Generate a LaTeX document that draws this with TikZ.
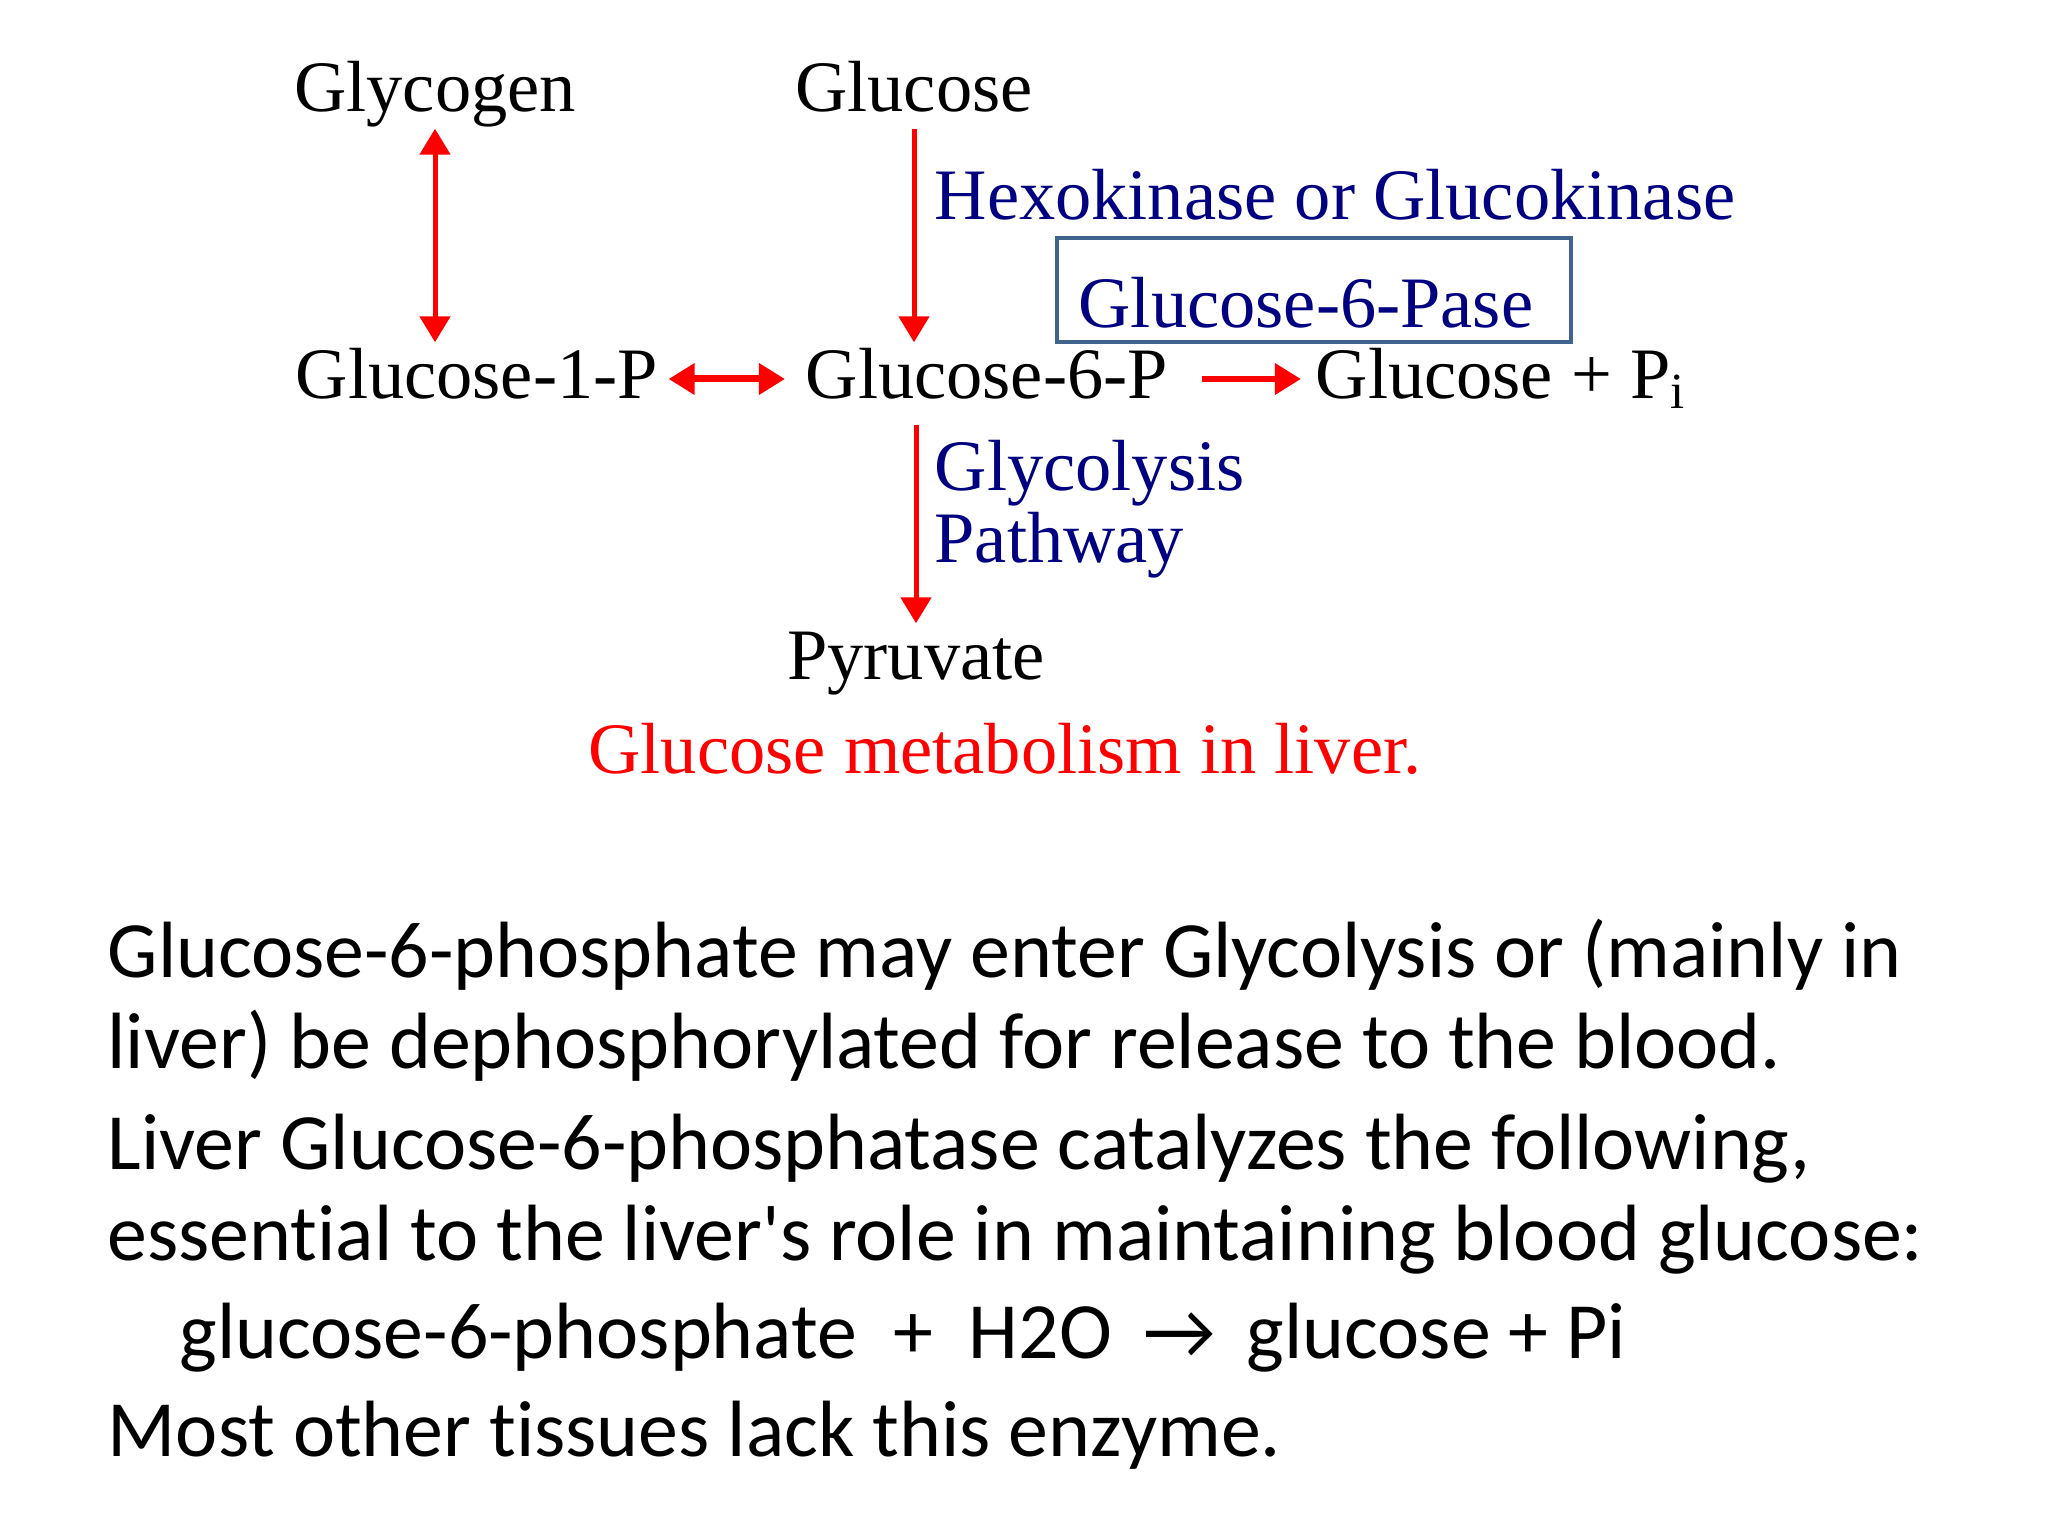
\documentclass[tikz,border=0pt]{standalone}
\usepackage{fontspec}
\setmainfont{Liberation Serif}
\newfontfamily\bodyfont[Ligatures=NoCommon]{Carlito}
\usetikzlibrary{arrows.meta}
\definecolor{enzblue}{HTML}{000080}
\definecolor{boxblue}{HTML}{41648F}

\begin{document}
\begin{tikzpicture}[x=0.01cm,y=-0.01cm,
	compound/.style={inner sep=0pt, text height=0.55cm, text depth=0.17cm, font=\fontsize{20.6}{24}\selectfont, anchor=base},
	enzyme/.style={compound, text=enzblue, anchor=base west},
	pasebox/.style={compound, text=enzblue, draw=boxblue, line width=0.045cm, text height=0.89cm, text depth=0.15cm, minimum width=5.14cm},
	bodyline/.style={inner sep=0pt, anchor=base west, font=\bodyfont\fontsize{22.7}{27}\selectfont},
	convert/.style={red, line width=0.05cm, -{Triangle[width=0.3cm,length=0.26cm]}},
	interconvert/.style={red, line width=0.05cm, {Triangle[width=0.3cm,length=0.26cm]}-{Triangle[width=0.3cm,length=0.26cm]}},]
						\fill[white] (0,0) rectangle (2048,1536);
						\useasboundingbox (0,0) rectangle (2048,1536);

						\node[compound](glycogen) at (435,111){Glycogen};
						\node[compound](glucose) at (914,111){Glucose};
						\node[enzyme](hexo) at (934,219){Hexokinase or Glucokinase};
						\node[pasebox](pase) at (1314,327){Glucose-6-Pase\kern0.16cm};
						\node[compound, anchor=base west](g1p) at (295,398){Glucose-1-P};
						\node[compound, anchor=base west](g6p) at (805,398){Glucose-6-P};
						\node[compound, anchor=base west](free) at (1315,398){Glucose + P\textsubscript{i}};
						\node[enzyme](glyco) at (934,490){Glycolysis};
						\node[enzyme](pathway) at (934,562){Pathway};
						\node[compound](pyruvate) at (916,679){Pyruvate};
						\node[compound, text=red](caption) at (1005,773){Glucose metabolism in liver.};

						\node[bodyline](line1) at (107,977){Glucose-6-phosphate may enter Glycolysis or (mainly in};
						\node[bodyline](line2) at (107,1068){liver) be dephosphorylated for release to the blood.};
						\node[bodyline](line3) at (107,1169){Liver Glucose-6-phosphatase catalyzes the following,};
						\node[bodyline](line4) at (107,1260){essential to the liver's role in maintaining blood glucose:};
						\node[bodyline](line5) at (179,1358){glucose-6-phosphate \ + \ H2O \,→\, glucose + Pi};
						\node[bodyline](line6) at (107,1456){Most other tissues lack this enzyme.};

						\draw[interconvert](glycogen.south) -- (glycogen.south |- g1p.north);
						\draw[convert](glucose.south) -- (glucose.south |- g6p.north);
						\draw[interconvert, line width=0.07cm, shorten <=0.1cm, shorten >=0.2cm](g1p.east) -- (g6p.west);
						\draw[convert, line width=0.065cm, shorten <=0.33cm, shorten >=0.14cm](g6p.east) -- (free.west);
						\draw[convert, shorten <=0.09cm](pyruvate.north |- g6p.south) -- (pyruvate.north);
				\end{tikzpicture}
\end{document}
